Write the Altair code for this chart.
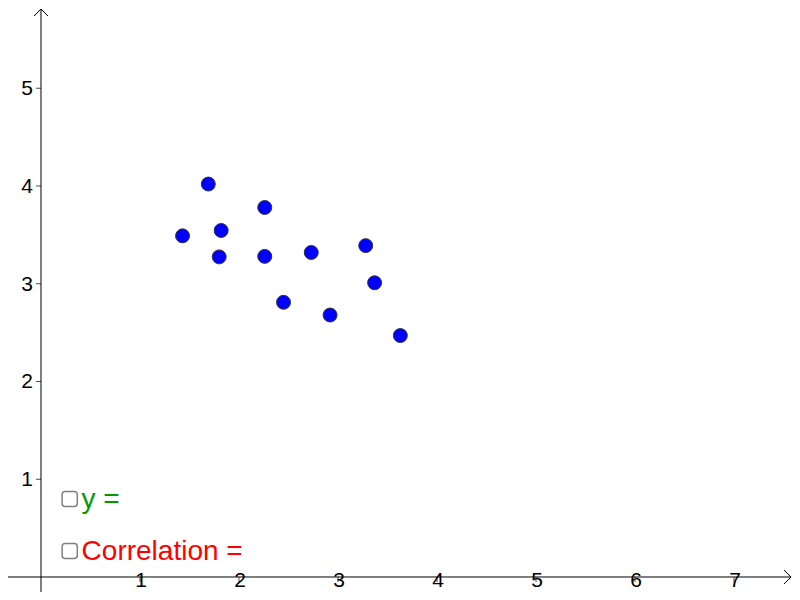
import altair as alt
import pandas as pd

# Data
xs = [1.69, 2.26, 1.43, 1.82, 1.80, 2.26, 2.73, 3.28, 3.37, 2.45, 2.92, 3.63]
ys = [4.02, 3.78, 3.49, 3.545, 3.275, 3.28, 3.32, 3.39, 3.01, 2.81, 2.68, 2.47]

x_ticks = [1, 2, 3, 4, 5, 6, 7]
y_ticks = [1, 2, 3, 4, 5]

labels_text = ["y =", "Correlation ="]
labels_color = ["#009900", "#ff0000"]
labels_y = [0.798, 0.266]

X_DOMAIN = [-0.3333, 7.586]
Y_DOMAIN = [-0.1535, 5.821]

xs_scale = alt.Scale(domain=X_DOMAIN, nice=False, zero=False)
ys_scale = alt.Scale(domain=Y_DOMAIN, nice=False, zero=False)

FONT = "Liberation Sans"

pts = pd.DataFrame({"x": xs, "y": ys})
xt = pd.DataFrame({"v": x_ticks, "lab": [str(v) for v in x_ticks], "zero": 0})
yt = pd.DataFrame({"v": y_ticks, "lab": [str(v) for v in y_ticks], "zero": 0})
lab = pd.DataFrame({"text": labels_text, "color": labels_color, "y": labels_y, "x": 0.29, "tx": 0.41})

X = lambda f: alt.X(f, type="quantitative", scale=xs_scale, axis=None)
Y = lambda f: alt.Y(f, type="quantitative", scale=ys_scale, axis=None)

base_axis = pd.DataFrame({"a": [0]})

x_axis = alt.Chart(base_axis).mark_rule(color="black", strokeWidth=1).encode(
    x=alt.value(0), x2=alt.value(783), y=Y("a:Q"))
y_axis = alt.Chart(base_axis).mark_rule(color="black", strokeWidth=1).encode(
    x=X("a:Q"), y=alt.value(1), y2=alt.value(584))

x_arrow = alt.Chart(base_axis).mark_point(
    shape="M-1,-1L0,0L-1,1", size=196, filled=False, stroke="black", strokeWidth=1, opacity=1
).encode(x=alt.value(783), y=Y("a:Q"))
y_arrow = alt.Chart(base_axis).mark_point(
    shape="M-1,1L0,0L1,1", size=196, filled=False, stroke="black", strokeWidth=1, opacity=1
).encode(x=X("a:Q"), y=alt.value(1))

y_tickmarks = alt.Chart(yt).mark_tick(orient="horizontal", size=5, thickness=1, color="black", xOffset=-2.5).encode(
    x=X("zero:Q"), y=Y("v:Q"))
x_tickmarks = alt.Chart(xt).mark_tick(orient="vertical", size=5, thickness=1, color="black", yOffset=2.5).encode(
    x=X("v:Q"), y=Y("zero:Q"))

x_labels = alt.Chart(xt).mark_text(font=FONT, fontSize=21, color="black", baseline="middle", align="center", dy=4, dx=1).encode(
    x=X("v:Q"), y=Y("zero:Q"), text="lab:N")
y_labels = alt.Chart(yt).mark_text(font=FONT, fontSize=21, color="black", baseline="middle", align="right", dx=-8, dy=1).encode(
    x=X("zero:Q"), y=Y("v:Q"), text="lab:N")

points = alt.Chart(pts).mark_circle(size=195, color="#0000ff", stroke="#333333", strokeWidth=1, opacity=1).encode(
    x=X("x:Q"), y=Y("y:Q"))

ROUNDED_BOX = ("M-0.6,-1L0.6,-1Q1,-1 1,-0.6L1,0.6Q1,1 0.6,1L-0.6,1"
               "Q-1,1 -1,0.6L-1,-0.6Q-1,-1 -0.6,-1Z")
boxes = alt.Chart(lab).mark_point(shape=ROUNDED_BOX, size=230, filled=False, stroke="#808080",
                                  strokeWidth=1.5, opacity=1).encode(
    x=X("x:Q"), y=Y("y:Q"))
texts = alt.Chart(lab).mark_text(font=FONT, fontSize=28, align="left", baseline="middle", dy=1).encode(
    x=X("tx:Q"), y=Y("y:Q"), text="text:N", color=alt.Color("color:N", scale=None))

chart = alt.layer(
    x_axis, y_axis, x_arrow, y_arrow, y_tickmarks, x_tickmarks, x_labels, y_labels, points, boxes, texts
).properties(
    width=784, height=584, padding=0, background="white",
    autosize=alt.AutoSizeParams(type="none")
).configure_view(strokeWidth=0, stroke="transparent")

chart.save("out.html", embed_options={"renderer": "svg", "actions": False})
